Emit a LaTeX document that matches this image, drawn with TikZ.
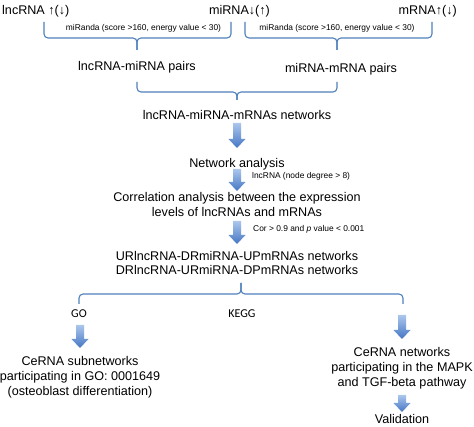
\documentclass[tikz,border=0pt]{standalone}
\usepackage{fontspec}
\setmainfont{Liberation Sans}
\newfontfamily\calfont{Carlito}
\usetikzlibrary{calc}
\definecolor{brc}{RGB}{79,129,189}
\definecolor{atop}{RGB}{172,198,236}
\definecolor{abot}{RGB}{68,118,196}
\tikzset{
  main/.style={font=\fontsize{12.6}{15}\selectfont, inner sep=0pt, align=center},
  small/.style={font=\fontsize{8.4}{10}\selectfont, inner sep=0pt},
  cal/.style={font=\calfont\fontsize{12}{14}\selectfont, inner sep=0pt},
  brace/.style={draw=brc, line width=1.1pt, rounded corners=4pt},
  arrowshade/.style={top color=atop, bottom color=abot, draw=none},
}
\newcommand\blockarr[2]{%
  \path[arrowshade] let \p1=(#1), \p2=(#2) in
    ({\x1-4pt},\y1) -- ({\x1+4pt},\y1) -- ({\x1+4pt},{\y2+9pt}) --
    ({\x1+8.5pt},{\y2+9pt}) -- (\x1,\y2) -- ({\x1-8.5pt},{\y2+9pt}) --
    ({\x1-4pt},{\y2+9pt}) -- cycle;}
\begin{document}
\begin{tikzpicture}[x=1pt,y=-1pt]
\useasboundingbox[fill=white] (0,0) rectangle (474,427);
% top texts
\node[main, anchor=base west] (lnc) at (2,14.5) {lncRNA ↑(↓)};
\node[main, anchor=base] (mir) at (239.5,14.5) {miRNA↓(↑)};
\node[main, anchor=base east] (mrna) at (457,14.5) {mRNA↑(↓)};
\node[small, anchor=base] (lab1) at (143.5,31) {miRanda (score >160, energy value < 30)};
\node[small, anchor=base] (lab2) at (337,31) {miRanda (score >160, energy value < 30)};
\node[main, anchor=base] (pair1) at (137,70.5) {lncRNA-miRNA pairs};
\node[main, anchor=base] (pair2) at (341,73) {miRNA-mRNA pairs};
\node[main, anchor=base] (net) at (237,119.5) {lncRNA-miRNA-mRNAs networks};
\node[main, anchor=base] (na) at (237,167.5) {Network analysis};
\node[small, anchor=base west] (lab3) at (252,179) {lncRNA (node degree > 8)};
% multi-line nodes: base anchor = baseline of last line
\node[main, anchor=base] (corr) at (237,216.5) {Correlation analysis between the expression\\levels of lncRNAs and mRNAs};
\node[small, anchor=base west] (lab4) at (253,232) {Cor > 0.9 and \textit{p} value < 0.001};
\node[main, anchor=base] (urdr) at (237,274.5) {URlncRNA-DRmiRNA-UPmRNAs networks\\[-1pt]DRlncRNA-URmiRNA-DPmRNAs networks};
\node[cal, anchor=base] (go) at (79,317.5) {GO};
\node[cal, anchor=base] (kegg) at (242,317.5) {KEGG};
\node[main, anchor=base] (ceL) at (80,395.5) {CeRNA subnetworks\\participating in GO: 0001649\\(osteoblast differentiation)};
\node[main, anchor=base] (ceR) at (402,386.5) {CeRNA networks\\participating in the MAPK\\and TGF-beta pathway};
\node[main, anchor=base] (val) at (402,424) {Validation};
% brace coordinates
\coordinate (b1a) at (44,22);  \coordinate (b1b) at (231,22);
\coordinate (b2a) at (245,22); \coordinate (b2b) at (432,22);
\coordinate (b3a) at (137,82); \coordinate (b3b) at (337,82);
\coordinate (b4a) at (79,304); \coordinate (b4b) at (403,304);
% braces
\draw[brace] (b1a) -- (44,38) -- (137,38) -- (137,50);
\draw[brace] (b1b) -- (231,38) -- (137,38) -- (137,50);
\draw[brace] (b2a) -- (245,38) -- (337,38) -- (337,50);
\draw[brace] (b2b) -- (432,38) -- (337,38) -- (337,50);
\draw[brace] (b3a) -- (137,92) -- (237,92) -- (237,100);
\draw[brace] (b3b) -- (337,92) -- (237,92) -- (237,100);
\draw[brace] (b4a) -- (79,294) -- (241,294) -- (241,283);
\draw[brace] (b4b) -- (403,294) -- (241,294) -- (241,283);
% arrow coordinates
\coordinate (a1s) at (237,123); \coordinate (a1e) at (237,148);
\coordinate (a2s) at (237,169); \coordinate (a2e) at (237,191);
\coordinate (a3s) at (237,221); \coordinate (a3e) at (237,244);
\coordinate (a4s) at (80,325);  \coordinate (a4e) at (80,348);
\coordinate (a5s) at (402,315); \coordinate (a5e) at (402,339);
\coordinate (a6s) at (402,395); \coordinate (a6e) at (402,412);
\blockarr{a1s}{a1e}
\blockarr{a2s}{a2e}
\blockarr{a3s}{a3e}
\blockarr{a4s}{a4e}
\blockarr{a5s}{a5e}
\blockarr{a6s}{a6e}
\end{tikzpicture}
\end{document}
